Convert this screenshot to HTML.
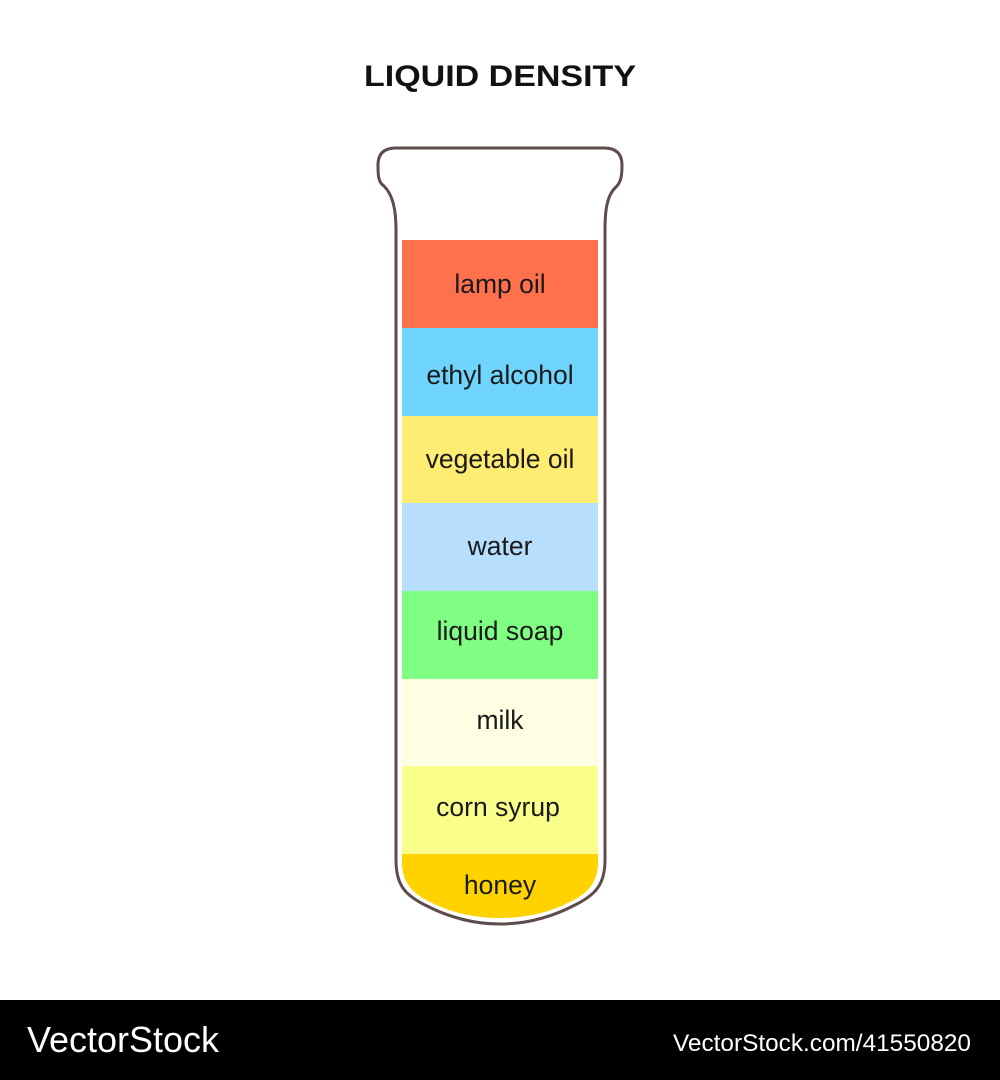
<!DOCTYPE html>
<html><head><meta charset="utf-8"><style>
html,body{margin:0;padding:0;background:#fff;}
svg{display:block;}
</style></head><body>
<svg width="1000" height="1080" viewBox="0 0 1000 1080" xmlns="http://www.w3.org/2000/svg" font-family="Liberation Sans, sans-serif">
<rect width="1000" height="1080" fill="#fff"/>
<text x="500" y="86" text-anchor="middle" font-size="30" font-weight="bold" fill="#111" textLength="272" lengthAdjust="spacingAndGlyphs">LIQUID DENSITY</text>
<rect x="402" y="240" width="196" height="88" fill="#ff714c"/>
<rect x="402" y="328" width="196" height="88" fill="#6fd4fe"/>
<rect x="402" y="416" width="196" height="87" fill="#ffec72"/>
<rect x="402" y="503" width="196" height="88" fill="#b8defe"/>
<rect x="402" y="591" width="196" height="88" fill="#80fd83"/>
<rect x="402" y="679" width="196" height="87" fill="#fefee2"/>
<rect x="402" y="766" width="196" height="88" fill="#fafe8a"/>
<path d="M402,854 L598,854 L598,866 C596,884 588,893 570,902 C548,913 525,918 500,918 C475,918 452,913 430,902 C412,893 404,884 402,866 Z" fill="#ffd200"/>
<path d="M384,186 C378,182 378,175 378,165 Q378,148 396,148 L604,148 Q622,148 622,165 C622,176 621,182 616,187 C607,195 605,210 605,230 L605,860 C605,885 595,895 575,905 C550,918 525,924 500,924 C475,924 450,918 425,905 C405,895 396,885 396,860 L396,230 C396,210 393,195 384,186 Z" fill="none" stroke="#5e4b4b" stroke-width="3"/>
<g font-size="26.5" fill="#1a1a1a" text-anchor="middle">
<text x="500" y="293">lamp oil</text>
<text x="500" y="384">ethyl alcohol</text>
<text x="500" y="468">vegetable oil</text>
<text x="500" y="555">water</text>
<text x="500" y="640">liquid soap</text>
<text x="500" y="729">milk</text>
<text x="498" y="816">corn syrup</text>
<text x="500" y="894">honey</text>
</g>
<rect x="0" y="1000" width="1000" height="80" fill="#000"/>
<text x="27" y="1052" font-size="36" fill="#fff" textLength="192" lengthAdjust="spacingAndGlyphs">VectorStock</text>
<text x="673" y="1051" font-size="24" fill="#fff" textLength="298" lengthAdjust="spacingAndGlyphs">VectorStock.com/41550820</text>
</svg>
</body></html>
